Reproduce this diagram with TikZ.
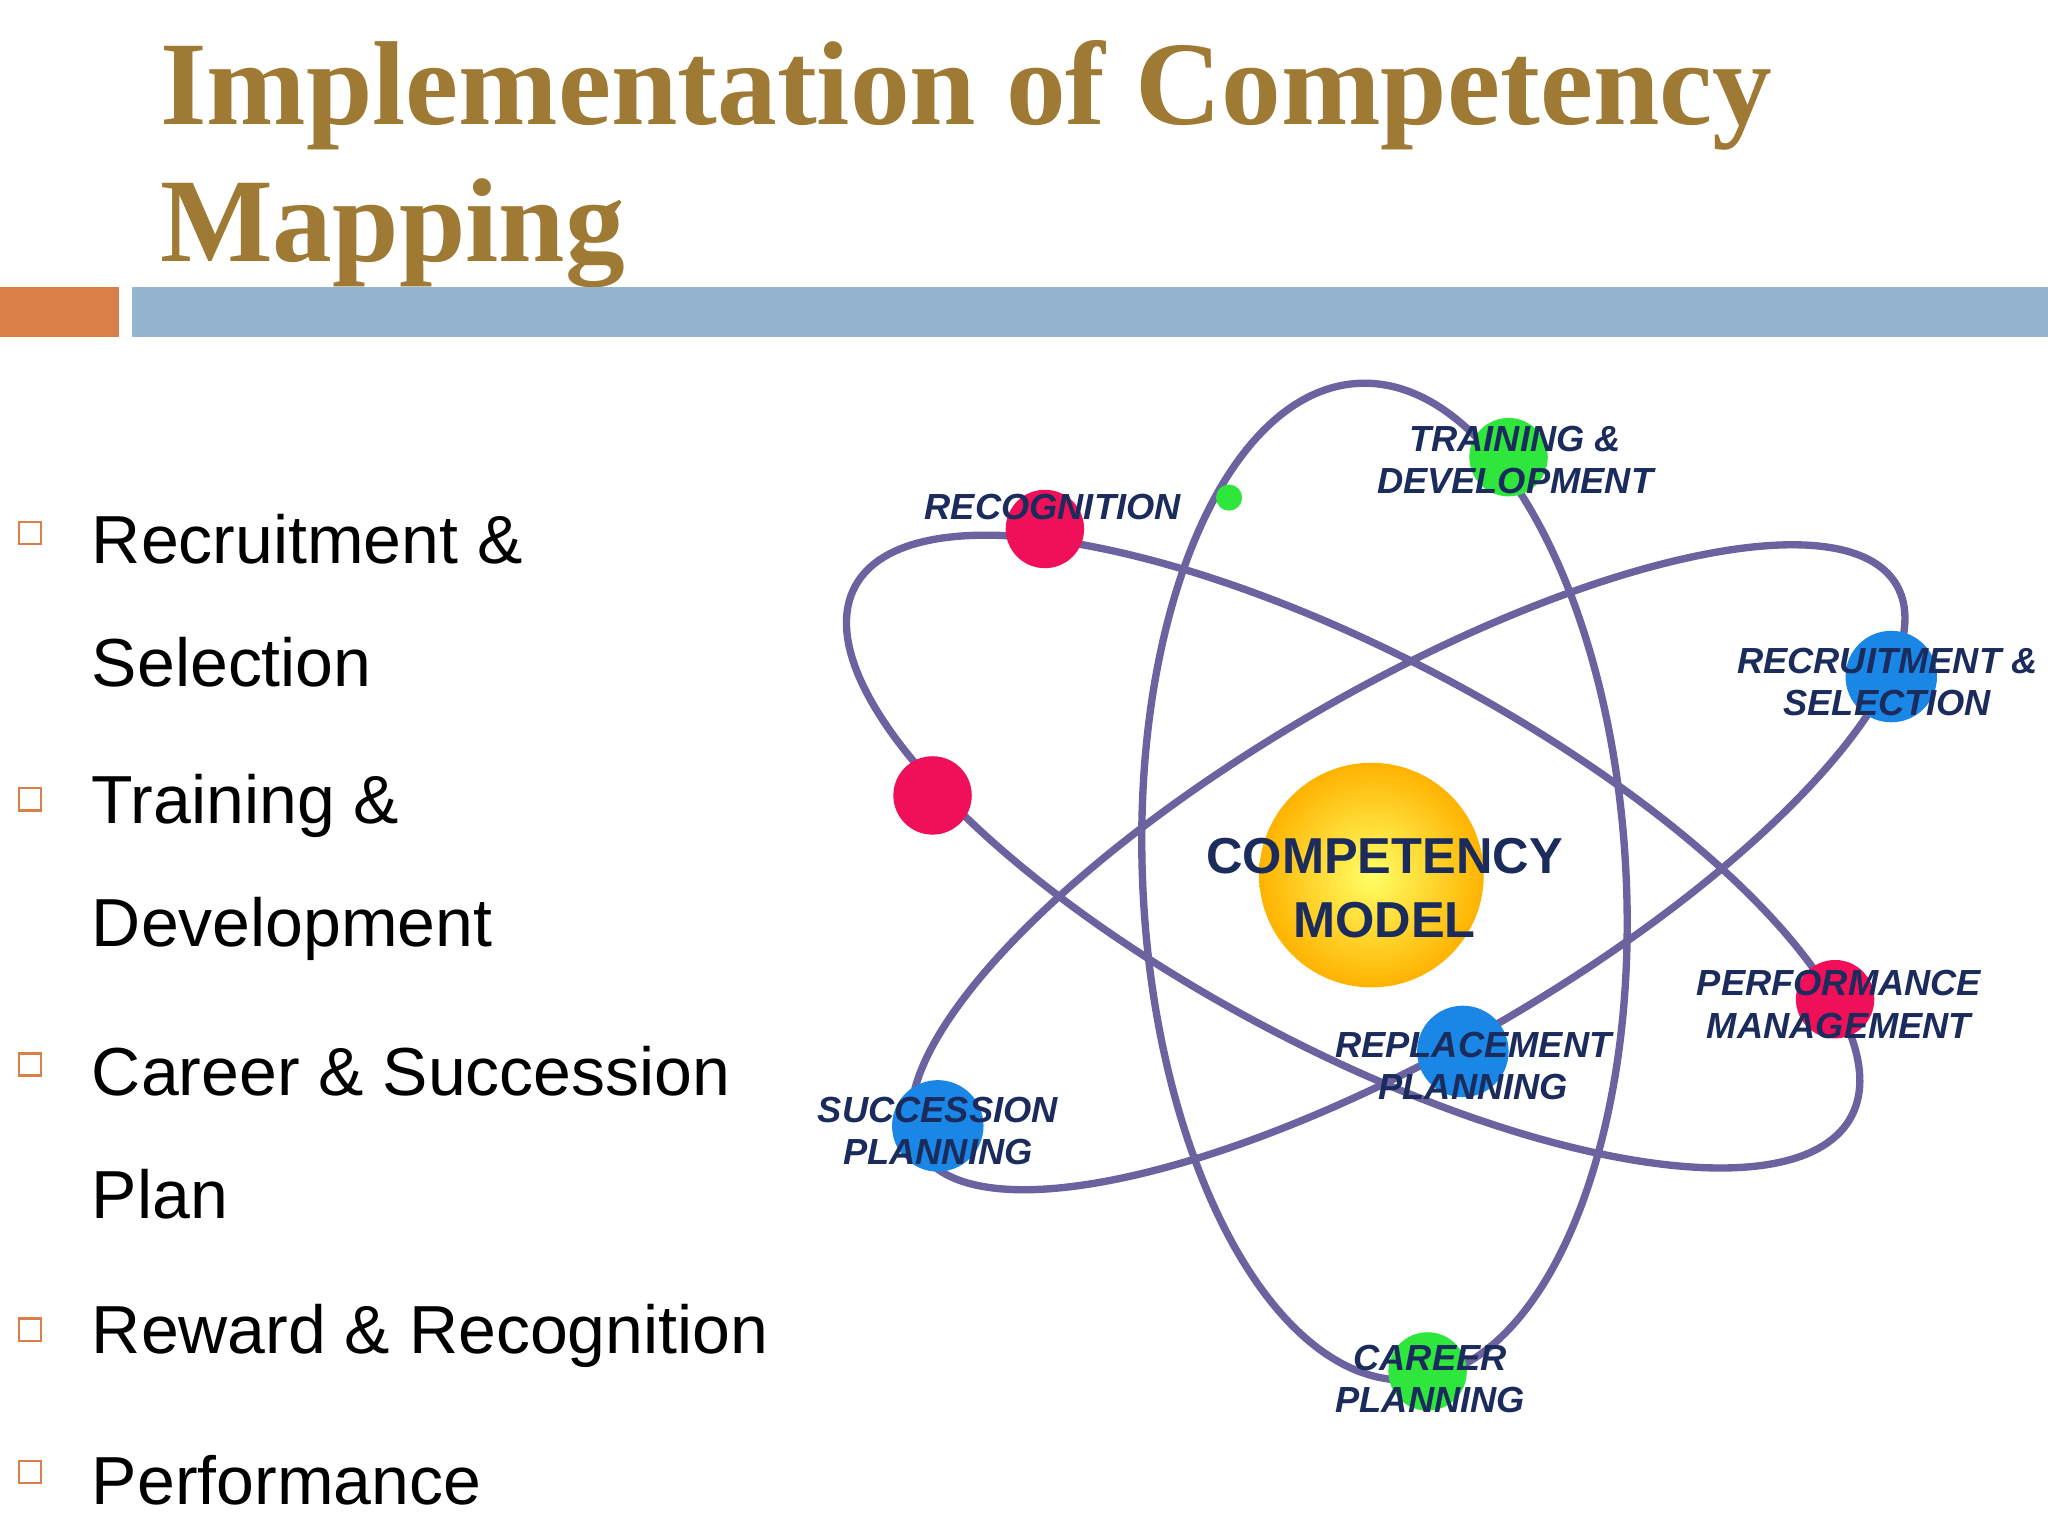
\documentclass[tikz,border=0pt]{standalone}
\usepackage{fontspec}
\setmainfont{Liberation Sans}
\newfontfamily\titlefont{Liberation Serif}
\begin{document}
\begin{tikzpicture}[x=0.01cm,y=-0.01cm,
  orbit/.style={draw=orbitc,line width=1.6pt},
  dot/.style={circle,inner sep=0pt},
  lab/.style={font=\fontsize{7.9}{9.2}\selectfont\bfseries\itshape,text=labc,align=center},
  bul/.style={font=\fontsize{14.8}{17}\selectfont,anchor=west},
  box/.style={draw=bulc,line width=0.5pt,minimum size=0.17cm,inner sep=0pt}]
\definecolor{orbitc}{HTML}{6A63A0}
\definecolor{labc}{HTML}{1B2C5C}
\definecolor{bulc}{HTML}{D9804A}
\definecolor{titlec}{HTML}{9E7A35}
\definecolor{barb}{HTML}{94B4CF}
\definecolor{redd}{HTML}{F0105A}
\definecolor{bluu}{HTML}{1A86E6}
\definecolor{grn}{HTML}{2EE63C}
\useasboundingbox (0,0) rectangle (1568,1176);
\fill[white] (0,0) rectangle (1568,1176);
\node[anchor=base west,font=\titlefont\fontsize{26}{30}\selectfont\bfseries,text=titlec,align=left,inner sep=0pt] (title) at (122,95) {Implementation of Competency};
\node[anchor=base west,font=\titlefont\fontsize{26}{30}\selectfont\bfseries,text=titlec,inner sep=0pt] (title2) at (122,200) {Mapping};
\fill[bulc] (0,220) rectangle (91,258);
\fill[barb] (101,220) rectangle (1568,258);
\foreach \t/\y [count=\i] in {Recruitment \&/413,Selection/507,Training \&/617,Development/711,Career \& Succession/820,Plan/914,Reward \& Recognition/1023,Performance/1133}{
  \node[bul] (b\i) at (58,\y) {\t};}
\foreach \y [count=\i] in {408,612,815,1018,1127}{\node[box] (sq\i) at (23,\y) {};}
% orbits
\draw[orbit] (1060,675) ellipse [x radius=185,y radius=382,rotate=3];
\draw[orbit] (1036,652) ellipse [x radius=432,y radius=150,rotate=-28];
\draw[orbit] (1078,664) ellipse [x radius=432,y radius=138,rotate=30];
% center
\shade[inner color=yellow!60!white,outer color=orange!60!yellow] (1050,670) circle (86);
\node[font=\fontsize{11}{14}\selectfont\bfseries,text=labc,align=center] (cm) at (1060,680) {COMPETENCY\\MODEL};
% dots
\node[dot,fill=redd,minimum size=0.6cm] (d1) at (800,405) {};
\node[dot,fill=redd,minimum size=0.6cm] (d2) at (714,609) {};
\node[dot,fill=grn,minimum size=0.2cm] (d3) at (941,381) {};
\node[dot,fill=grn,minimum size=0.6cm] (d4) at (1155,350) {};
\node[dot,fill=bluu,minimum size=0.7cm] (d5) at (1448,518) {};
\node[dot,fill=redd,minimum size=0.6cm] (d6) at (1405,765) {};
\node[dot,fill=bluu,minimum size=0.7cm] (d7) at (1120,805) {};
\node[dot,fill=bluu,minimum size=0.7cm] (d8) at (718,862) {};
\node[dot,fill=grn,minimum size=0.6cm] (d9) at (1093,1050) {};
% labels
\node[lab] (l1) at (806,388) {RECOGNITION};
\node[lab] (l4) at (1160,352) {TRAINING \&\\DEVELOPMENT};
\node[lab] (l5) at (1445,522) {RECRUITMENT \&\\SELECTION};
\node[lab] (l6) at (1408,769) {PERFORMANCE\\MANAGEMENT};
\node[lab] (l7) at (1128,816) {REPLACEMENT\\PLANNING};
\node[lab] (l8) at (718,866) {SUCCESSION\\PLANNING};
\node[lab] (l9) at (1095,1056) {CAREER\\PLANNING};
\end{tikzpicture}
\end{document}
